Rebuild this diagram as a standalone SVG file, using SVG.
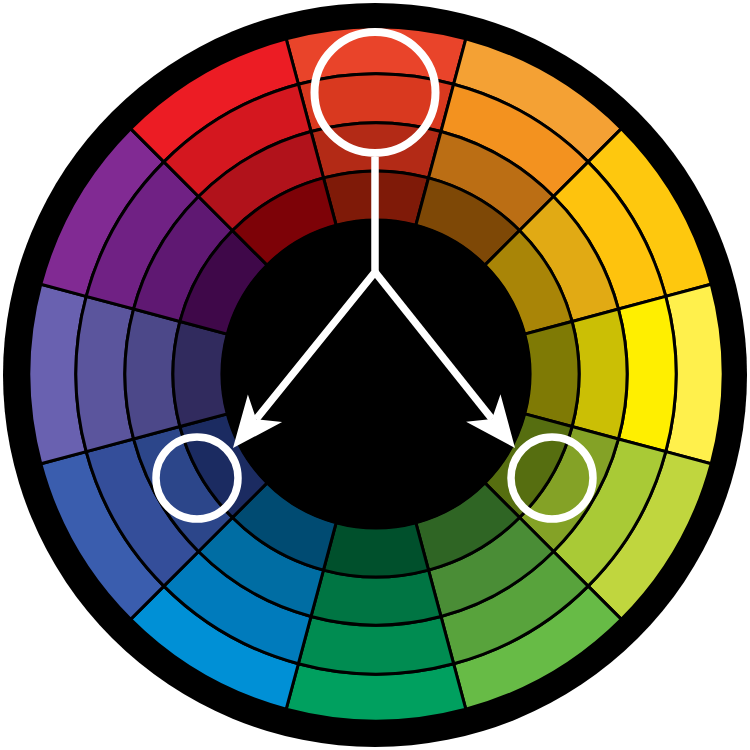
<svg xmlns="http://www.w3.org/2000/svg" xmlns:xlink="http://www.w3.org/1999/xlink" width="750" height="750" viewBox="0 0 750 750">
<style>
.seg{stroke:#000;stroke-width:3;stroke-linejoin:miter}
.ring{fill:none;stroke:#fff}
.conn{fill:none;stroke:#fff;stroke-width:7.5;stroke-linejoin:miter}
</style>
<defs>
<path id="rA" d="M286.19,38.82 A347,347 0 0 1 465.81,38.82 L453.65,84.22 A300,300 0 0 0 298.35,84.22 Z"/>
<path id="rB" d="M298.35,84.22 A300,300 0 0 1 453.65,84.22 L440.96,131.55 A251,251 0 0 0 311.04,131.55 Z"/>
<path id="rC" d="M311.04,131.55 A251,251 0 0 1 440.96,131.55 L428.54,177.92 A203,203 0 0 0 323.46,177.92 Z"/>
<path id="rD" d="M323.46,177.92 A203,203 0 0 1 428.54,177.92 L415.86,225.25 A154,154 0 0 0 336.14,225.25 Z"/>
<marker id="arr" markerUnits="userSpaceOnUse" markerWidth="60" markerHeight="50" viewBox="0 -25 60 50" refX="14" refY="0" orient="auto" overflow="visible">
<path d="M51,0 L0,-22 L14,0 L0,22 Z" fill="#fff"/>
</marker>
</defs>
<rect width="750" height="750" fill="#fff"/>
<circle cx="375" cy="375" r="372" fill="#000"/>
<g id="wheel">
<g id="h0"><use href="#rA" class="seg" fill="#E9442A"/><use href="#rB" class="seg" fill="#D9391F"/><use href="#rC" class="seg" fill="#B32A16"/><use href="#rD" class="seg" fill="#7F1A08"/></g>
<g id="h30" transform="rotate(30 376 374)"><use href="#rA" class="seg" fill="#F4A134"/><use href="#rB" class="seg" fill="#F3921F"/><use href="#rC" class="seg" fill="#BB6E14"/><use href="#rD" class="seg" fill="#7E4806"/></g>
<g id="h60" transform="rotate(60 376 374)"><use href="#rA" class="seg" fill="#FEC80E"/><use href="#rB" class="seg" fill="#FEC30D"/><use href="#rC" class="seg" fill="#E1AA14"/><use href="#rD" class="seg" fill="#A98507"/></g>
<g id="h90" transform="rotate(90 376 374)"><use href="#rA" class="seg" fill="#FFF04C"/><use href="#rB" class="seg" fill="#FFEF00"/><use href="#rC" class="seg" fill="#CBBF05"/><use href="#rD" class="seg" fill="#7F7A05"/></g>
<g id="h120" transform="rotate(120 376 374)"><use href="#rA" class="seg" fill="#C0D63E"/><use href="#rB" class="seg" fill="#A9CA36"/><use href="#rC" class="seg" fill="#84A226"/><use href="#rD" class="seg" fill="#566E10"/></g>
<g id="h150" transform="rotate(150 376 374)"><use href="#rA" class="seg" fill="#67BB46"/><use href="#rB" class="seg" fill="#58A33C"/><use href="#rC" class="seg" fill="#4A8D36"/><use href="#rD" class="seg" fill="#2F6524"/></g>
<g id="h180" transform="rotate(180 376 374)"><use href="#rA" class="seg" fill="#00A05F"/><use href="#rB" class="seg" fill="#008C51"/><use href="#rC" class="seg" fill="#007543"/><use href="#rD" class="seg" fill="#00502C"/></g>
<g id="h210" transform="rotate(210 376 374)"><use href="#rA" class="seg" fill="#0090D6"/><use href="#rB" class="seg" fill="#007BBC"/><use href="#rC" class="seg" fill="#006DA3"/><use href="#rD" class="seg" fill="#004B72"/></g>
<g id="h240" transform="rotate(240 376 374)"><use href="#rA" class="seg" fill="#3A5DAE"/><use href="#rB" class="seg" fill="#344E9A"/><use href="#rC" class="seg" fill="#2C468A"/><use href="#rD" class="seg" fill="#1B2B61"/></g>
<g id="h270" transform="rotate(270 376 374)"><use href="#rA" class="seg" fill="#6961B0"/><use href="#rB" class="seg" fill="#5B559D"/><use href="#rC" class="seg" fill="#4C4889"/><use href="#rD" class="seg" fill="#312B5E"/></g>
<g id="h300" transform="rotate(300 376 374)"><use href="#rA" class="seg" fill="#812A93"/><use href="#rB" class="seg" fill="#702184"/><use href="#rC" class="seg" fill="#5F1872"/><use href="#rD" class="seg" fill="#3F0849"/></g>
<g id="h330" transform="rotate(330 376 374)"><use href="#rA" class="seg" fill="#EC1C24"/><use href="#rB" class="seg" fill="#D4171F"/><use href="#rC" class="seg" fill="#B1121B"/><use href="#rD" class="seg" fill="#7D0207"/></g>
<circle id="hub" cx="376" cy="374" r="155" fill="#000"/>
</g>
<g id="source"><circle class="ring" cx="375" cy="92.5" r="60.5" stroke-width="8"/></g>
<g id="target-left"><circle class="ring" cx="197" cy="478" r="41" stroke-width="7.5"/></g>
<g id="target-right"><circle class="ring" cx="552" cy="478" r="41" stroke-width="7.5"/></g>
<g id="connectors">
<path class="conn" d="M375,157 L375,272 L256.2,419.2" marker-end="url(#arr)"/>
<path class="conn" d="M375,272 L492,419" marker-end="url(#arr)"/>
</g>
</svg>
